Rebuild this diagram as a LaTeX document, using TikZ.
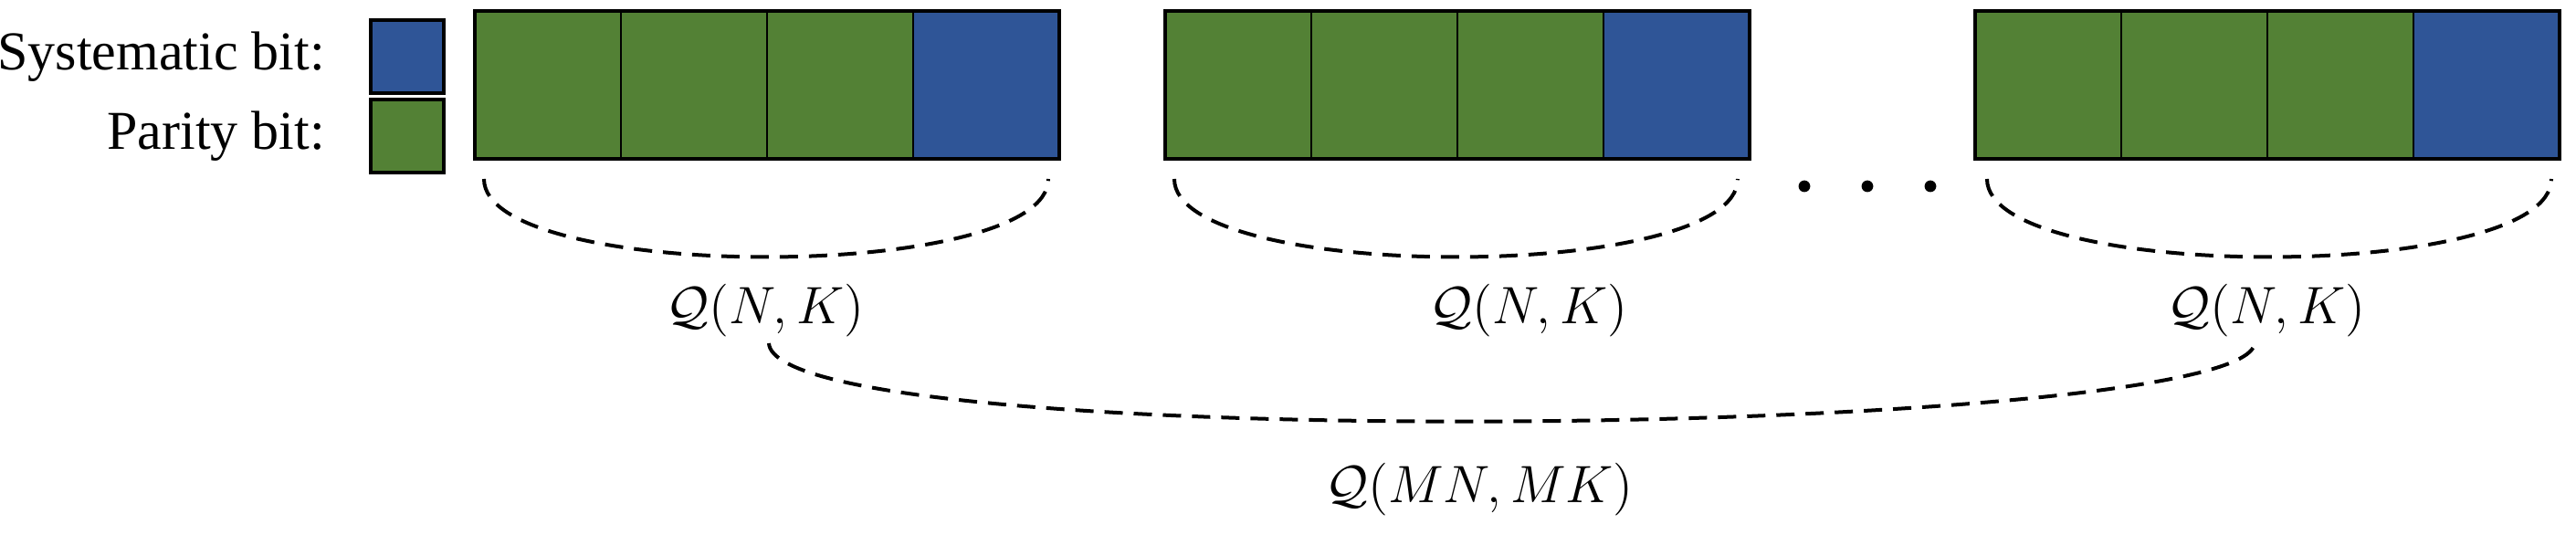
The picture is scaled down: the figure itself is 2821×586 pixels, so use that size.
\documentclass[tikz,border=0pt]{standalone}
\usepackage{fontspec}
\setmainfont{Liberation Serif}
\definecolor{pgreen}{HTML}{538135}
\definecolor{sblue}{HTML}{2F5597}
\begin{document}
\begin{tikzpicture}[x=0.25pt,y=-0.25pt,
  cell/.style={draw=black,line width=0.6pt,minimum width=40pt,minimum height=40.5pt,inner sep=0,outer sep=0},
  par/.style={cell,fill=pgreen},
  sys/.style={cell,fill=sblue},
  leg/.style={draw=black,line width=1pt,minimum width=20pt,minimum height=20pt,inner sep=0},
  brace/.style={dashed,line width=1pt,dash pattern=on 5pt off 3pt},
  lab/.style={font=\fontsize{15}{18}\selectfont}]
\useasboundingbox (0,0) rectangle (2821,586);
% legend
\node[leg,fill=sblue] (ls) at (446,62) {};
\node[leg,fill=pgreen] (lp) at (446,149) {};
\node[lab,anchor=east] (ts) at (370,62) {Systematic bit:};
\node[lab,anchor=east] (tp) at (370,149) {Parity bit:};
% blocks
\foreach \b/\x in {a/520,b/1276,c/2163}{
  \node[par] (\b1) at (\x+80,93) {};
  \node[par] (\b2) at (\x+240,93) {};
  \node[par] (\b3) at (\x+400,93) {};
  \node[sys] (\b4) at (\x+560,93) {};
  \draw[line width=1pt] (\b1.north west) rectangle (\b4.south east);
}
% dots
\foreach \i/\x in {1/1976,2/2045,3/2114}{\fill (\x,204) circle (1.6pt);}
% labels
\node[lab] (qa) at (838,340) {$\mathcal{Q}(N,K)$};
\node[lab] (qb) at (1674,340) {$\mathcal{Q}(N,K)$};
\node[lab] (qc) at (2482,340) {$\mathcal{Q}(N,K)$};
\node[lab] (qm) at (1620,536) {$\mathcal{Q}(MN,MK)$};
% braces
\coordinate (a0) at (530,196); \coordinate (a9) at (1148,196);
\coordinate (b0) at (1286,196); \coordinate (b9) at (1903,196);
\coordinate (c0) at (2176,196); \coordinate (c9) at (2794,196);
\draw[brace] (a0) .. controls (530,310) and (1148,310) .. (a9);
\draw[brace] (b0) .. controls (1286,310) and (1903,310) .. (b9);
\draw[brace] (c0) .. controls (2176,310) and (2794,310) .. (c9);
\coordinate (m0) at (842,376); \coordinate (m9) at (2469,376);
\draw[brace] (m0) .. controls (850,500) and (2460,480) .. (m9);
\end{tikzpicture}
\end{document}
